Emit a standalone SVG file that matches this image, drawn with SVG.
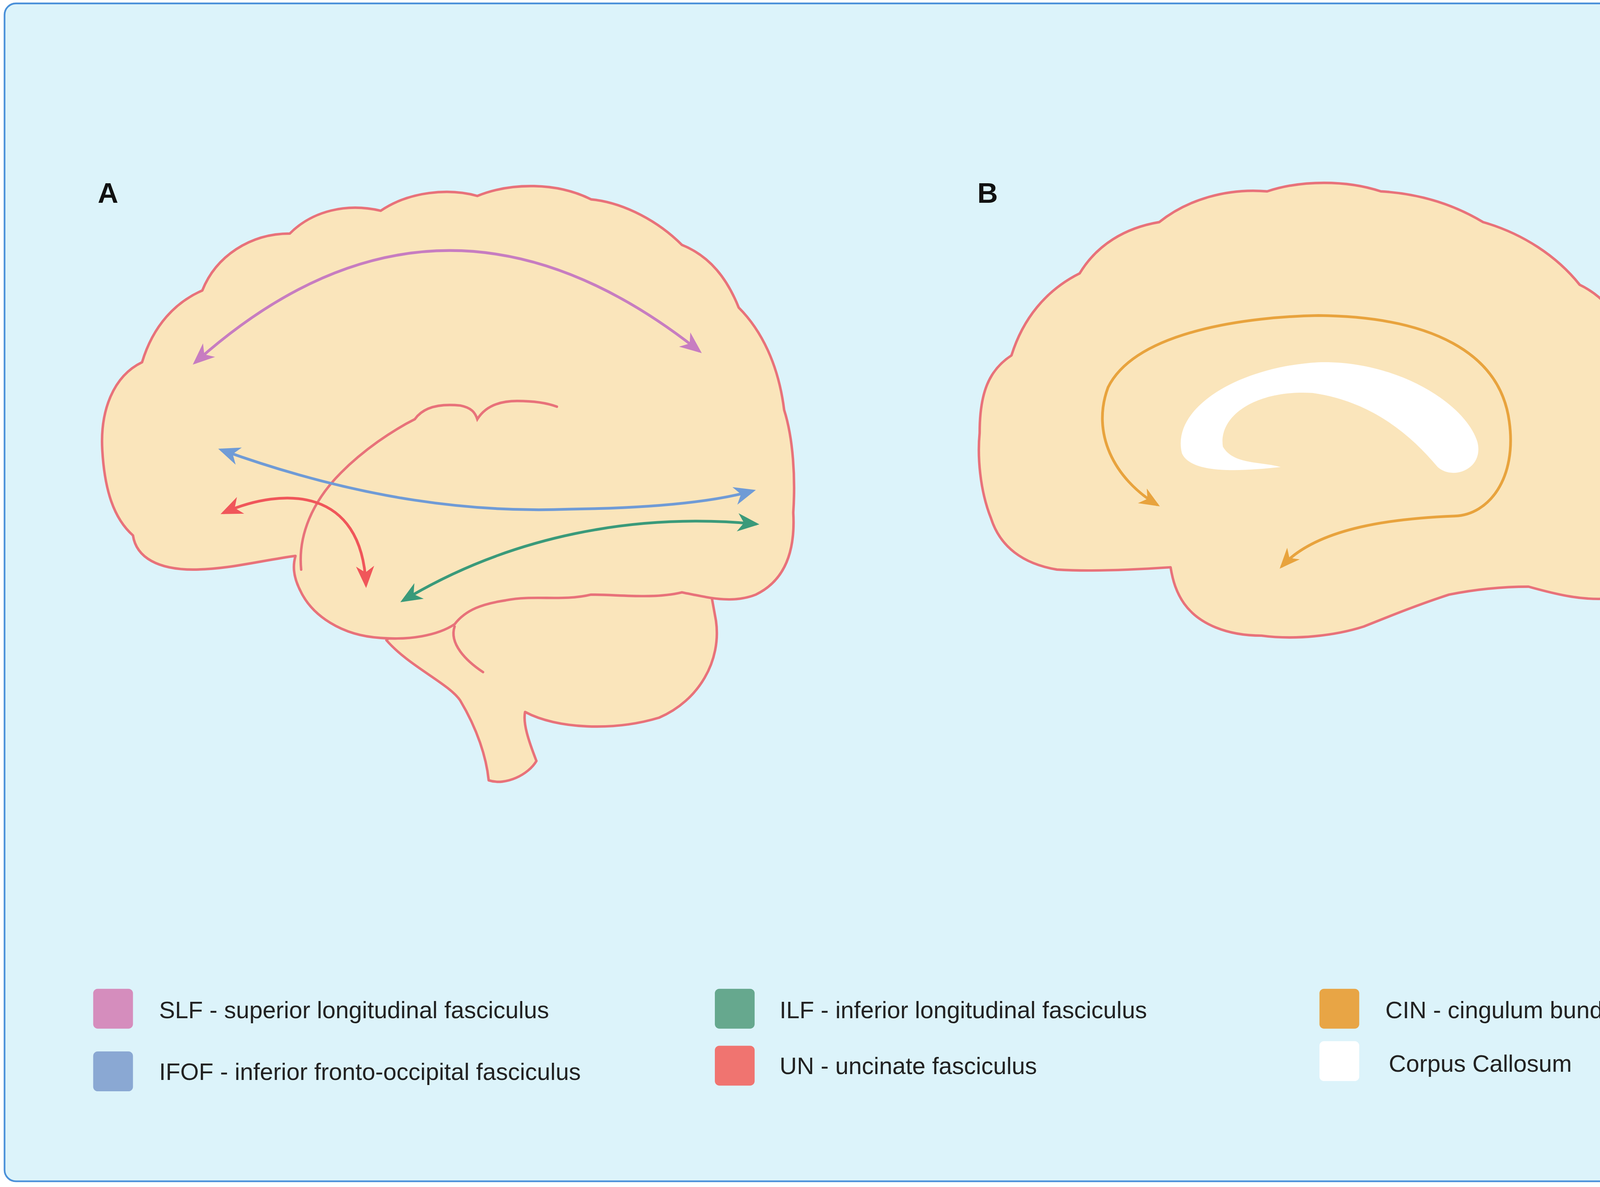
<svg xmlns="http://www.w3.org/2000/svg" width="4562" height="3038" viewBox="0 0 4562 3038">
<style>
.brain{fill:#fae5bb;stroke:#e8727a;stroke-width:2.2;stroke-linejoin:round}
.line{fill:none;stroke:#e8727a;stroke-width:2.2;stroke-linecap:round}
.tract{fill:none;stroke-width:2.4;stroke-linecap:round}
.lbl{font-family:"Liberation Sans",Arial,sans-serif;font-size:21px;fill:#222}
.big{font-family:"Liberation Sans",Arial,sans-serif;font-size:25px;font-weight:bold;fill:#111}
</style>
<defs>
<marker id="mP" viewBox="0 0 12 10" refX="10" refY="5" markerWidth="20" markerHeight="16" orient="auto-start-reverse" markerUnits="userSpaceOnUse"><path d="M0,0 L12,5 L0,10 L3.5,5 z" fill="#c77dc1"/></marker>
<marker id="mB" viewBox="0 0 12 10" refX="10" refY="5" markerWidth="20" markerHeight="16" orient="auto-start-reverse" markerUnits="userSpaceOnUse"><path d="M0,0 L12,5 L0,10 L3.5,5 z" fill="#6f9bd6"/></marker>
<marker id="mR" viewBox="0 0 12 10" refX="10" refY="5" markerWidth="20" markerHeight="16" orient="auto-start-reverse" markerUnits="userSpaceOnUse"><path d="M0,0 L12,5 L0,10 L3.5,5 z" fill="#f0565a"/></marker>
<marker id="mG" viewBox="0 0 12 10" refX="10" refY="5" markerWidth="20" markerHeight="16" orient="auto-start-reverse" markerUnits="userSpaceOnUse"><path d="M0,0 L12,5 L0,10 L3.5,5 z" fill="#3a9a7a"/></marker>
<marker id="mO" viewBox="0 0 12 10" refX="10" refY="5" markerWidth="18" markerHeight="15" orient="auto-start-reverse" markerUnits="userSpaceOnUse"><path d="M0,0 L12,5 L0,10 L3.5,5 z" fill="#e8a33d"/></marker>
</defs>
<g transform="scale(2.9094,2.9155)">
<rect id="frame" x="4" y="3" width="1558" height="1034" rx="10" fill="#dcf3fa" stroke="#4a90d9" stroke-width="1.5"/>
<text class="big" x="86" y="178">A</text>
<text class="big" x="860" y="178">B</text>

<g id="brainA">
<path class="brain" d="M340,562 C360,585 395,600 405,615 C420,640 428,665 430,685 C445,690 465,680 472,668 C465,650 460,635 462,625 C490,640 540,642 580,630 C615,615 635,580 630,545 L620,490 L420,490 Z"/>
<path class="line" d="M400,550 C395,565 410,580 425,590"/>
<path class="brain" d="M260,488 C230,492 200,500 170,500 C140,500 120,490 117,470 C100,455 92,430 90,395 C88,360 100,330 125,318 C135,285 155,265 178,255 C190,225 220,205 255,205 C275,185 305,178 335,185 C360,168 395,165 420,172 C450,160 490,160 520,175 C550,178 580,195 600,215 C625,225 640,245 650,270 C670,290 685,320 690,360 C698,385 700,420 698,450 C700,485 690,510 665,522 C645,530 625,525 600,520 C575,526 545,522 520,522 C495,528 470,522 445,527 C425,530 410,535 400,548 C385,558 360,562 335,560 C300,558 275,540 265,520 C257,505 258,495 260,488 Z"/>
<path class="line" d="M265,500 C262,470 275,440 300,415 C320,395 345,378 365,368 C372,358 385,354 405,356 C415,358 418,362 420,368 C425,360 435,352 455,352 C472,352 482,354 490,357"/>
</g>

<g id="brainB">
<path class="brain" d="M1030,498 C1000,500 960,502 930,500 C900,495 880,480 872,455 C862,430 860,400 862,380 C862,345 870,325 890,312 C900,280 920,255 950,240 C965,215 990,200 1020,195 C1045,175 1080,165 1115,168 C1145,158 1185,158 1215,168 C1250,170 1280,180 1305,195 C1340,205 1370,225 1390,250 C1415,262 1430,285 1440,310 C1460,330 1468,360 1468,395 C1475,420 1472,450 1465,470 C1462,500 1445,520 1420,525 C1395,528 1370,522 1345,515 C1320,515 1295,518 1275,522 C1250,530 1225,540 1200,550 C1175,558 1140,562 1110,558 C1080,558 1055,548 1042,530 C1035,520 1032,510 1030,498 Z"/>
<path id="cc" d="M1040,398 C1030,358 1090,322 1160,318 C1230,316 1290,355 1300,388 C1306,412 1278,422 1265,410 C1240,380 1205,352 1155,345 C1105,342 1072,365 1076,392 C1085,408 1110,405 1127,410 C1090,414 1048,416 1040,398 Z" fill="#ffffff"/>
</g>

<g id="connectors">
<path class="tract" stroke="#c77dc1" marker-start="url(#mP)" marker-end="url(#mP)" d="M172,318 Q386,127 615,308"/>
<path class="tract" stroke="#6f9bd6" marker-start="url(#mB)" marker-end="url(#mB)" d="M195,395 C320,440 420,450 500,447 C580,446 630,440 662,431"/>
<path class="tract" stroke="#f0565a" marker-start="url(#mR)" marker-end="url(#mR)" d="M197,450 C250,427 318,428 322,513"/>
<path class="tract" stroke="#3a9a7a" marker-start="url(#mG)" marker-end="url(#mG)" d="M355,527 C450,470 560,450 665,460"/>
<path class="tract" stroke="#e8a33d" marker-start="url(#mO)" marker-end="url(#mO)" d="M1018,443 C980,420 960,380 975,340 C1000,290 1100,278 1160,277 C1260,278 1320,310 1328,370 C1335,420 1310,452 1280,453 C1230,455 1160,462 1128,497"/>
</g>

<g id="legend">
<rect x="82" y="868" width="35" height="35" rx="4" fill="#d58dbd"/>
<text class="lbl" x="140" y="894">SLF - superior longitudinal fasciculus</text>
<rect x="82" y="923" width="35" height="35" rx="4" fill="#8aa8d3"/>
<text class="lbl" x="140" y="948">IFOF - inferior fronto-occipital fasciculus</text>
<rect x="629" y="868" width="35" height="35" rx="4" fill="#66a88e"/>
<text class="lbl" x="686" y="894">ILF - inferior longitudinal fasciculus</text>
<rect x="629" y="918" width="35" height="35" rx="4" fill="#f07470"/>
<text class="lbl" x="686" y="943">UN - uncinate fasciculus</text>
<rect x="1161" y="868" width="35" height="35" rx="4" fill="#e8a545"/>
<text class="lbl" x="1219" y="894">CIN - cingulum bundle</text>
<rect x="1161" y="914" width="35" height="35" rx="4" fill="#ffffff"/>
<text class="lbl" x="1222" y="941">Corpus Callosum</text>
</g>
</g>
</svg>
